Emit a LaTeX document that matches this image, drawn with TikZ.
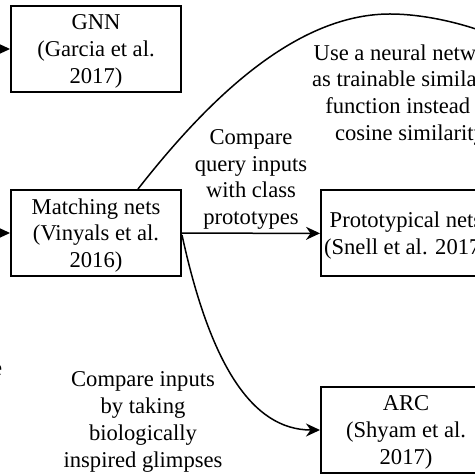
\documentclass[tikz,border=0pt]{standalone}
\usepackage{fontspec}
\setmainfont{Liberation Serif}
\usetikzlibrary{arrows.meta,positioning}

\begin{document}
\begin{tikzpicture}[x=0.5pt,y=-0.5pt,
  refbox/.style={draw,line width=1pt,minimum width=85pt,minimum height=43pt,inner sep=0pt,text depth=-1.5pt,align=center,font=\fontsize{11.3}{13.4}\selectfont},
  lbl/.style={align=center,inner sep=0pt,font=\fontsize{11.3}{13.4}\selectfont},
  arr/.style={-{Stealth[length=7pt,width=6.5pt]},line width=0.75pt}]
\useasboundingbox (0,0) rectangle (474,474);
% boxes
\node[refbox] (gnn) at (96,49) {GNN\\(Garcia et al.\\2017)};
\node[refbox] (match) at (96,233) {Matching nets\\(Vinyals et al.\\2016)};
\node[refbox] (proto) at (406,233.5) {Prototypical nets\\(Snell et al. 2017)};
\node[refbox] (arc) at (406,430) {ARC\\(Shyam et al.\\2017)};
% loose ends off the page
\coordinate (inA) at (-40,49);
\coordinate (inB) at (-40,233);
\coordinate (farR) at (620,130);
\node[lbl,anchor=base east] (cut) at (2.5,375) {e};
% connectors
\draw[arr] (inA) -- (gnn);
\draw[arr] (inB) -- (match);
\draw[arr] (match) -- node[lbl,above=1.5pt] {Compare\\query inputs\\with class\\prototypes} (proto);
\draw[arr] ([xshift=21pt]match.north) .. controls (200,110) and (290,14) .. (390,14)
  .. controls (445,14) and (550,40) .. (farR);
\draw[arr] ([yshift=-1pt]match.east) .. controls (209.6,362) and (251,430) .. (arc.west);
% labels
\node[lbl] (simlbl) at (410,95) {Use a neural network\\as trainable similarity\\function instead of\\cosine similarity};
\node[lbl] (glimlbl) at (143,422) {Compare inputs\\by taking\\biologically\\inspired glimpses};
\end{tikzpicture}
\end{document}
